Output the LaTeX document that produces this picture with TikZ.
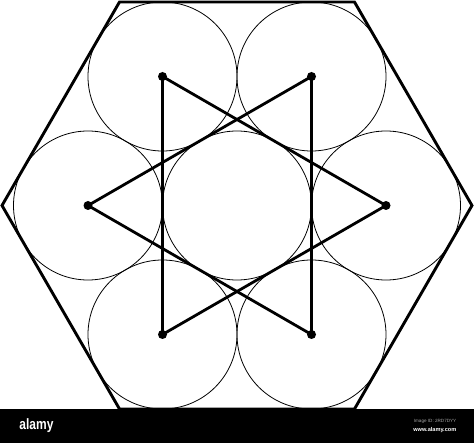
\documentclass[tikz,border=0pt]{standalone}
\usepackage{fontspec}
\setmainfont{Liberation Sans}
\begin{document}
\begin{tikzpicture}[x=1pt,y=-1pt,
  ball/.style={circle,draw=black,line width=0.8pt,minimum size=149pt,inner sep=0pt},
  dot/.style={circle,fill=black,minimum size=9pt,inner sep=0pt},
  hexline/.style={line width=2.9pt,line join=miter},
  starline/.style={line width=2.8pt,line join=miter}]
\useasboundingbox (0,0) rectangle (474,443);
% hexagon
\draw[hexline] (2,205.5) -- (119.5,2) -- (354.5,2) -- (472,205.5) -- (354.5,409) -- (119.5,409) -- cycle;
% circles
\node[ball] (c0) at (237,205.5) {};
\node[ball] (c1) at (162.5,76.5) {};
\node[ball] (c2) at (311.5,76.5) {};
\node[ball] (c3) at (386,205.5) {};
\node[ball] (c4) at (311.5,334.5) {};
\node[ball] (c5) at (162.5,334.5) {};
\node[ball] (c6) at (88,205.5) {};
% star
\node[dot] (p1) at (c1.center) {};
\node[dot] (p2) at (c2.center) {};
\node[dot] (p3) at (c3.center) {};
\node[dot] (p4) at (c4.center) {};
\node[dot] (p5) at (c5.center) {};
\node[dot] (p6) at (c6.center) {};
\draw[starline] (p1.center) -- (p5.center) -- (p3.center) -- cycle;
\draw[starline] (p2.center) -- (p4.center) -- (p6.center) -- cycle;
% watermark bar
\fill[black] (0,409) rectangle (474,443);
\node[text=white,font=\bfseries\fontsize{15}{15}\selectfont,inner sep=0pt,xscale=0.8] (logo) at (36.5,426) {alamy};
\node[text=black!35,font=\fontsize{4.6}{5}\selectfont,anchor=east,inner sep=0pt] (imgid) at (456.5,421) {Image ID: 2RD7DYY};
\node[text=white,font=\bfseries\fontsize{5.6}{6}\selectfont,anchor=east,inner sep=0pt] (url) at (456.5,430) {www.alamy.com};
\end{tikzpicture}
\end{document}
